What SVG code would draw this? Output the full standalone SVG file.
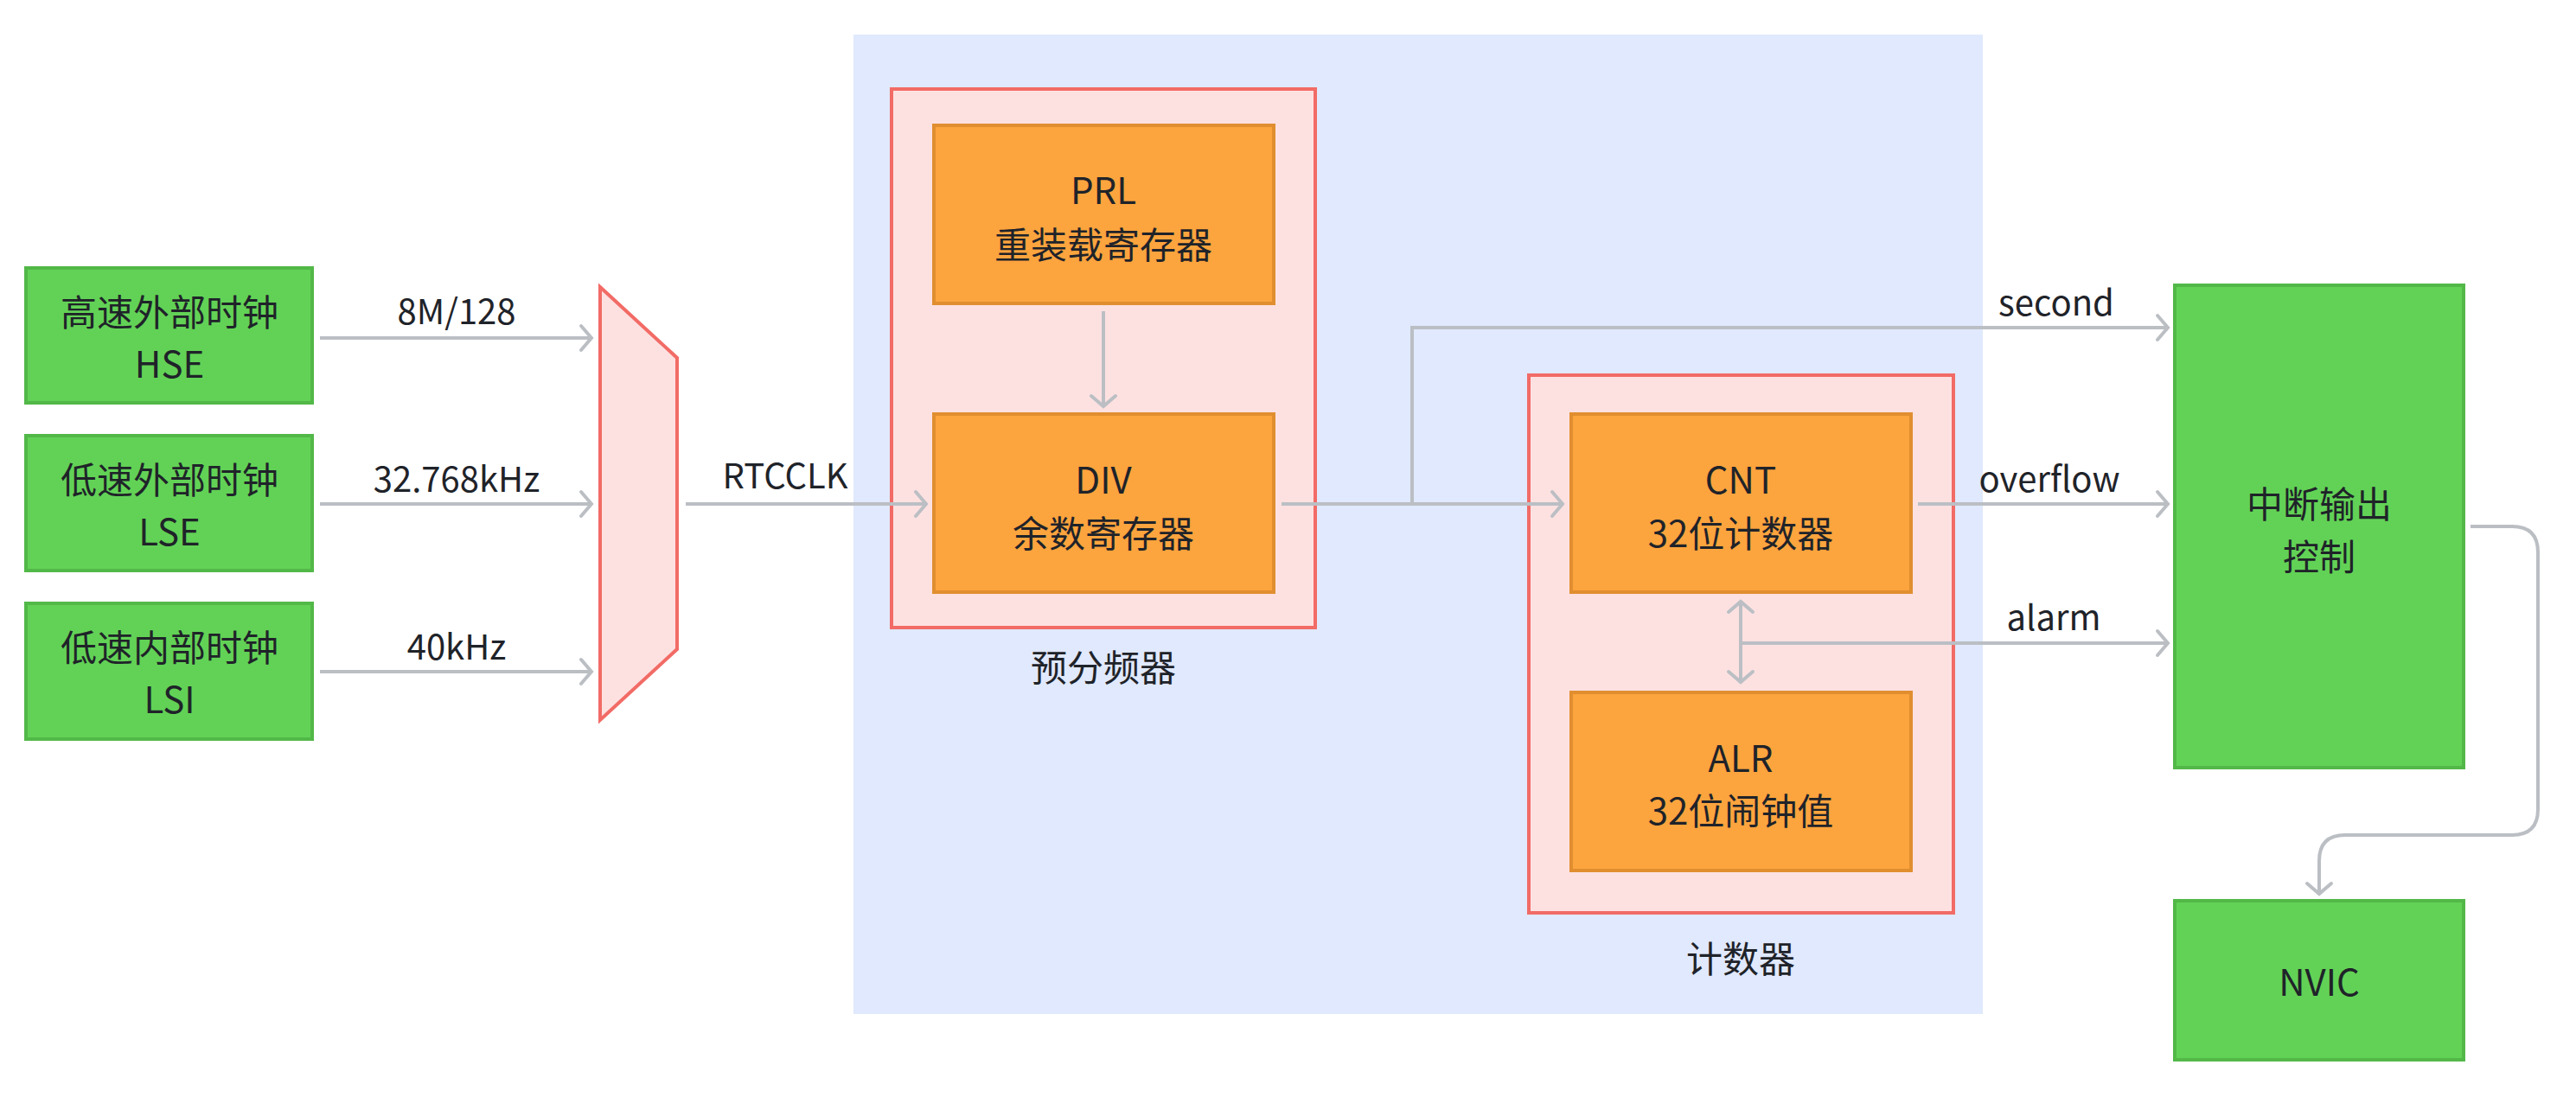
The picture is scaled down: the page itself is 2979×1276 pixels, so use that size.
<svg xmlns="http://www.w3.org/2000/svg" width="2979" height="1276" viewBox="0 0 2979 1276">
<style>
text{font-family:"Noto Sans CJK SC","Noto Sans",sans-serif;fill:#1f2329;text-anchor:middle}
.n{font-size:42px}.l{font-size:40px}
.g{fill:#62d256;stroke:#52b848;stroke-width:4}
.o{fill:#fca43e;stroke:#e08e2f;stroke-width:4}
.p{fill:#fde1e1;stroke:#f26b66;stroke-width:4}
.c{fill:none;stroke:#bbbfc4;stroke-width:4}
</style>
<defs>
<marker id="a" markerUnits="userSpaceOnUse" markerWidth="40" markerHeight="40" refX="20" refY="20" orient="auto" viewBox="0 0 40 40">
<path d="M8,6 L20,20 L8,34" fill="none" stroke="#bbbfc4" stroke-width="4" stroke-linecap="round"/>
</marker>
<marker id="as" markerUnits="userSpaceOnUse" markerWidth="40" markerHeight="40" refX="20" refY="20" orient="auto-start-reverse" viewBox="0 0 40 40">
<path d="M8,6 L20,20 L8,34" fill="none" stroke="#bbbfc4" stroke-width="4" stroke-linecap="round"/>
</marker>
</defs>
<rect x="987" y="40" width="1306" height="1133" fill="#e0e9fd"/>
<g id="prescaler"><rect class="p" x="1031" y="103" width="490" height="623"/><text class="n" x="1276" y="788">预分频器</text></g>
<g id="counter"><rect class="p" x="1768" y="434" width="491" height="622"/><text class="n" x="2013" y="1125">计数器</text></g>
<g id="HSE"><rect class="g" x="30" y="310" width="331" height="156"/><text class="n" x="196" y="377">高速外部时钟</text><text class="n" x="196" y="437">HSE</text></g>
<g id="LSE"><rect class="g" x="30" y="504" width="331" height="156"/><text class="n" x="196" y="571">低速外部时钟</text><text class="n" x="196" y="631">LSE</text></g>
<g id="LSI"><rect class="g" x="30" y="698" width="331" height="157"/><text class="n" x="196" y="765">低速内部时钟</text><text class="n" x="196" y="825">LSI</text></g>
<g id="mux"><polygon class="p" points="694,332 783,414 783,751 694,833"/></g>
<g id="PRL"><rect class="o" x="1080" y="145" width="393" height="206"/><text class="n" x="1276" y="236">PRL</text><text class="n" x="1276" y="299">重装载寄存器</text></g>
<g id="DIV"><rect class="o" x="1080" y="479" width="393" height="206"/><text class="n" x="1276" y="571">DIV</text><text class="n" x="1276" y="633">余数寄存器</text></g>
<g id="CNT"><rect class="o" x="1817" y="479" width="393" height="206"/><text class="n" x="2013" y="571">CNT</text><text class="n" x="2013" y="633">32位计数器</text></g>
<g id="ALR"><rect class="o" x="1817" y="801" width="393" height="206"/><text class="n" x="2013" y="893">ALR</text><text class="n" x="2013" y="954">32位闹钟值</text></g>
<g id="IRQ"><rect class="g" x="2515" y="330" width="334" height="558"/><text class="n" x="2682" y="599">中断输出</text><text class="n" x="2682" y="660">控制</text></g>
<g id="NVIC"><rect class="g" x="2515" y="1042" width="334" height="184"/><text class="n" x="2682" y="1152">NVIC</text></g>
<g id="connectors">
<path class="c" d="M370,391 H684" marker-end="url(#a)"/>
<path class="c" d="M370,583 H684" marker-end="url(#a)"/>
<path class="c" d="M370,777 H684" marker-end="url(#a)"/>
<path class="c" d="M793,583 H1071" marker-end="url(#a)"/>
<path class="c" d="M1276,360 V470" marker-end="url(#a)"/>
<path class="c" d="M1482,583 H1807" marker-end="url(#a)"/>
<path class="c" d="M1633,583 V379 H2507" marker-end="url(#a)"/>
<path class="c" d="M2218,583 H2507" marker-end="url(#a)"/>
<path class="c" d="M2013,696 V789" marker-start="url(#as)" marker-end="url(#as)"/>
<path class="c" d="M2013,744 H2507" marker-end="url(#a)"/>
<path class="c" d="M2857,609 H2905 Q2935,609 2935,639 V936 Q2935,966 2905,966 H2712 Q2682,966 2682,996 V1034" marker-end="url(#a)"/>
<text class="l" x="528" y="375">8M/128</text>
<text class="l" x="528" y="569">32.768kHz</text>
<text class="l" x="528" y="763">40kHz</text>
<text class="l" x="908" y="565">RTCCLK</text>
<text class="l" x="2378" y="365">second</text>
<text class="l" x="2370" y="569">overflow</text>
<text class="l" x="2375" y="729">alarm</text>
</g>
</svg>
